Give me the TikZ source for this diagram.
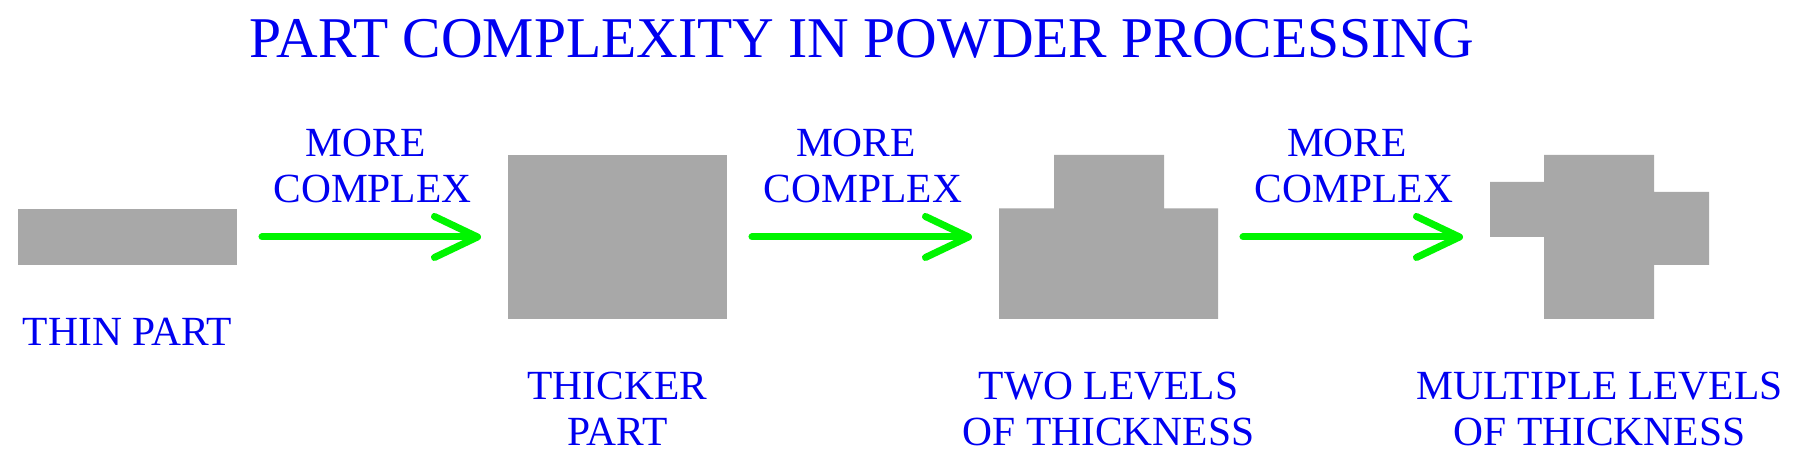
\documentclass[tikz,border=0pt]{standalone}
\usepackage{fontspec}
\setmainfont{Liberation Serif}
\usetikzlibrary{arrows.meta}
\definecolor{partgray}{RGB}{168,168,168}
\definecolor{txtblue}{RGB}{0,0,240}
\definecolor{arrgreen}{RGB}{0,245,0}
\tikzset{
  part/.style={inner sep=0pt, outer sep=0pt, minimum width=2.19cm, minimum height=1.64cm},
  lbl/.style={text=txtblue, align=center, inner sep=0pt, anchor=base},
  morearrow/.style={arrgreen, line width=2pt, ->, shorten <=0.25cm, shorten >=0.27cm},
}
\begin{document}
\begin{tikzpicture}[line join=round, line cap=round, >={Straight Barb[length=4.3mm,width=4.1mm,round]}, font=\fontsize{11.8}{13.1}\selectfont]
\useasboundingbox (0,0) rectangle (18,4.6);
% title
\node[lbl, font=\fontsize{16.4}{18}\selectfont] (title) at (8.62,4.02) {PART COMPLEXITY IN POWDER PROCESSING};
% the four parts
\node[part, fill=partgray, minimum height=0.56cm] (thin) at (1.275,2.23) {};
\node[part, fill=partgray] (thick) at (6.175,2.23) {};
\node[part] (two) at (11.085,2.23) {};
\node[part] (multi) at (15.995,2.23) {};
\fill[partgray] (9.99,1.41) rectangle (12.18,2.515) (10.54,2.5) rectangle (11.64,3.05);
\fill[partgray] (15.44,1.41) rectangle (16.54,3.05) (14.90,2.23) rectangle (15.45,2.78)
  (16.53,1.95) rectangle (17.09,2.68);
% arrows
\draw[morearrow] (thin.east) -- (thick.west) node[lbl, midway, yshift=0.345cm] (more1) {MORE\kern0.14cm\\COMPLEX};
\draw[morearrow] (thick.east) -- (two.west) node[lbl, midway, yshift=0.345cm] (more2) {MORE\kern0.14cm\\COMPLEX};
\draw[morearrow] (two.east) -- (multi.west) node[lbl, midway, yshift=0.345cm] (more3) {MORE\kern0.14cm\\COMPLEX};
% labels under the parts
\node[lbl] (thinlbl) at (1.275,1.14) {THIN PART};
\node[lbl] (thicklbl) at (6.175,0.14) {THICKER\\PART};
\node[lbl] (twolbl) at (11.085,0.14) {TWO LEVELS\\OF THICKNESS};
\node[lbl] (multilbl) at (15.995,0.14) {MULTIPLE LEVELS\\OF THICKNESS};
\end{tikzpicture}
\end{document}
